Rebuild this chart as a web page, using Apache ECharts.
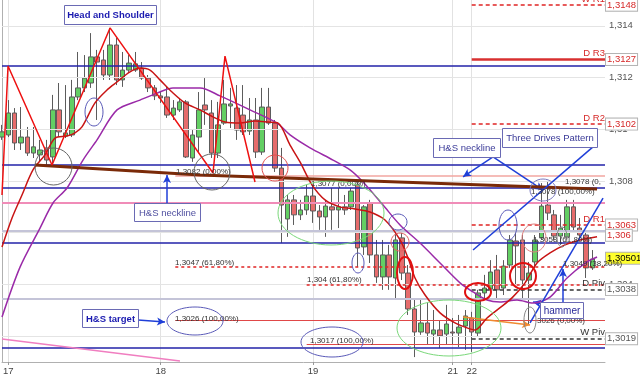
<!DOCTYPE html>
<html>
<head>
<meta charset="utf-8">
<script src="https://cdn.jsdelivr.net/npm/echarts/dist/echarts.min.js"></script>
<style>
html,body{margin:0;padding:0;background:#fff;}
#chart{width:640px;height:378px;}
</style>
</head>
<body>
<div id="chart"></div>
<script>
// ---------------- data ----------------
const dayLabels = {1:'17', 25:'18', 49:'19', 71:'21', 74:'22'};
const slotCount = 96;
// [open, close, low, high]
const candles = [
[1.30970,1.30990,1.30959,1.31017],[1.30978,1.31063,1.30970,1.31113],[1.31063,1.30947,1.30920,1.31082],
[1.30947,1.30970,1.30920,1.31086],[1.30970,1.30908,1.30897,1.31009],[1.30908,1.30932,1.30889,1.31009],
[1.30901,1.30920,1.30874,1.30959],[1.30928,1.30881,1.30862,1.30959],[1.30893,1.31075,1.30862,1.31133],
[1.31075,1.30990,1.30970,1.31179],[1.30974,1.30986,1.30966,1.31171],[1.30978,1.31125,1.30970,1.31191],
[1.31125,1.31160,1.31113,1.31299],[1.31160,1.31198,1.31144,1.31287],[1.31179,1.31280,1.31160,1.31372],
[1.31280,1.31260,1.31036,1.31307],[1.31268,1.31210,1.31191,1.31307],[1.31210,1.31326,1.31191,1.31392],
[1.31326,1.31191,1.31171,1.31353],[1.31191,1.31229,1.31164,1.31299],[1.31229,1.31256,1.31222,1.31287],
[1.31229,1.31253,1.31222,1.31299],[1.31237,1.31198,1.31191,1.31260],[1.31198,1.31160,1.31144,1.31210],
[1.31160,1.31129,1.31113,1.31171],[1.31129,1.31121,1.31102,1.31144],[1.31125,1.31055,1.31044,1.31164],
[1.31055,1.31082,1.31036,1.31113],[1.31075,1.31106,1.31067,1.31121],[1.31106,1.30893,1.30889,1.31113],
[1.30889,1.30978,1.30874,1.30997],[1.30970,1.31075,1.30908,1.31144],[1.31094,1.31075,1.31017,1.31198],
[1.31063,1.30908,1.30889,1.31113],[1.30908,1.31017,1.30889,1.31106],[1.31024,1.31098,1.31017,1.31191],
[1.31090,1.31098,1.31005,1.31160],[1.31082,1.30997,1.30959,1.31171],[1.31055,1.30990,1.30978,1.31171],
[1.30993,1.31036,1.30978,1.31121],[1.31036,1.30912,1.30889,1.31121],[1.30912,1.31086,1.30901,1.31160],
[1.31086,1.31024,1.31017,1.31160],[1.31024,1.30850,1.30835,1.31036],[1.30850,1.30707,1.30560,1.30928],
[1.30653,1.30727,1.30584,1.30746],[1.30727,1.30669,1.30630,1.30746],[1.30669,1.30688,1.30649,1.30727],
[1.30688,1.30742,1.30669,1.30785],[1.30742,1.30684,1.30638,1.30785],[1.30684,1.30661,1.30611,1.30707],
[1.30661,1.30703,1.30584,1.30727],[1.30700,1.30688,1.30611,1.30773],[1.30688,1.30700,1.30618,1.30773],
[1.30700,1.30688,1.30669,1.30746],[1.30700,1.30761,1.30688,1.30773],[1.30785,1.30541,1.30467,1.30796],
[1.30545,1.30700,1.30514,1.30707],[1.30715,1.30514,1.30483,1.30727],[1.30514,1.30429,1.30406,1.30572],
[1.30429,1.30514,1.30379,1.30572],[1.30514,1.30429,1.30379,1.30553],[1.30425,1.30572,1.30340,1.30603],
[1.30580,1.30444,1.30417,1.30599],[1.30444,1.30305,1.30282,1.30475],[1.30305,1.30216,1.30119,1.30340],
[1.30216,1.30251,1.30205,1.30340],[1.30251,1.30212,1.30166,1.30328],[1.30208,1.30224,1.30166,1.30301],
[1.30224,1.30201,1.30154,1.30262],[1.30208,1.30247,1.30166,1.30321],[1.30216,1.30212,1.30166,1.30270],
[1.30212,1.30235,1.30158,1.30282],[1.30239,1.30278,1.30147,1.30301],[1.30270,1.30216,1.30139,1.30294],
[1.30212,1.30367,1.30197,1.30379],[1.30367,1.30386,1.30340,1.30437],[1.30382,1.30448,1.30359,1.30494],
[1.30456,1.30379,1.30340,1.30514],[1.30386,1.30471,1.30359,1.30494],[1.30475,1.30572,1.30464,1.30591],
[1.30568,1.30549,1.30398,1.30611],[1.30572,1.30417,1.30340,1.30591],[1.30417,1.30444,1.30243,1.30487],
[1.30487,1.30572,1.30464,1.30591],[1.30580,1.30703,1.30572,1.30792],[1.30707,1.30676,1.30649,1.30796],
[1.30669,1.30587,1.30572,1.30688],[1.30587,1.30618,1.30553,1.30669],[1.30584,1.30700,1.30572,1.30727],
[1.30700,1.30622,1.30603,1.30727],[1.30618,1.30591,1.30572,1.30657],[1.30591,1.30464,1.30425,1.30603],
[1.30464,1.30498,1.30456,1.30533]
];
// moving averages traced as [slot, price]
const fastMA = [
[0,1.30545],[1.58,1.30657],[3.15,1.30746],[4.88,1.30843],[6.77,1.30901],[8.35,1.30966],[10.24,1.30974],
[11.5,1.30986],[12.6,1.31009],[14.65,1.31102],[16.54,1.31152],[18.12,1.31183],[20.17,1.31222],[21.74,1.31237],
[23.32,1.31229],[24.89,1.31191],[26.78,1.31144],[28.83,1.31102],[31.2,1.31075],[33.24,1.31048],[35.13,1.31028],
[37.5,1.31024],[39.86,1.31032],[41.91,1.31028],[43.49,1.31024],[45.38,1.30939],[46.95,1.30874],[48.84,1.30785],
[50.89,1.30727],[53.25,1.30700],[55.62,1.30692],[57.98,1.30680],[60.34,1.30649],[62.71,1.30572],[63.97,1.30502],
[65.07,1.30425],[66.65,1.30359],[69.01,1.30290],[71.37,1.30251],[73.26,1.30232],[74.52,1.30224],[76.41,1.30270],
[78.42,1.30309],[80.35,1.30348],[82.4,1.30406],[84.29,1.30483],[86.34,1.30522],[88.7,1.30553],[91.07,1.30572],
[93.75,1.30584]
];
const slowMA = [
[0,1.30274],[2.84,1.30467],[5.99,1.30618],[8.04,1.30715],[10.24,1.30773],[12.76,1.30881],[14.97,1.30959],
[18.12,1.31075],[21.74,1.31113],[24.42,1.31140],[26.94,1.31160],[31.2,1.31160],[34.35,1.31129],[39.07,1.31075],
[43.33,1.31024],[45.38,1.30978],[48.53,1.30928],[52.15,1.30881],[54.83,1.30843],[56.88,1.30796],[60.03,1.30707],
[62.71,1.30630],[65.86,1.30560],[69.01,1.30483],[72.16,1.30406],[74.21,1.30371],[76.41,1.30340],[78.46,1.30332],
[81.14,1.30340],[83.66,1.30328],[86.34,1.30351],[89.02,1.30425],[92.17,1.30487],[93.75,1.30506]
];
const hsZigzag = [[0,1.30746],[0.95,1.31245],[7.88,1.30862],[17.02,1.31392],[33.24,1.30831],[35.13,1.31283],[39.86,1.30796]];
const hsNeckline = [[5.2,1.30862],[31.2,1.30823],[93.75,1.30769]];
const channelLine = [[74.21,1.30533],[93.11,1.30932]];
const supportLine = [[83.19,1.30251],[94.69,1.30734]];
const yTicks = [1.302,1.304,1.306,1.308,1.310,1.312,1.314];
const blueLevels = [1.31245,1.30862,1.30773,1.30560,1.30154];
const pinkLevels = [1.30715];
const greyLevels = [1.30607,1.30344];
const pivotNames = ['W R1','D R3','D R2','D R1','D Piv','W Piv'];
const pivotValues = [1.3148,1.3127,1.3102,1.3063,1.3038,1.3019];
const fiboA = [1.3082,1.3047,1.3026];
const fiboB = [1.3040,1.3017];
const priceBoxValues = [1.3148,1.3127,1.3102,1.3063,1.3059,1.30501,1.3038,1.3019];
const priceBoxTexts = ['1,3148','1,3127','1,3102','1,3063','1,306','1,30501','1,3038','1,3019'];

// ---------------- chart ----------------
const FONT = 'Liberation Sans, Arial, sans-serif';
const categories = Array.from({length: slotCount}, (_, i) => dayLabels[i] || '');
const isDay = (i) => !!dayLabels[i];
const chart = echarts.init(document.getElementById('chart'));

const RED = '#e02424', BLUE = '#2222a8', TBLUE = '#1f3fd8';
function seg(x1, x2, v, ls, label) {
  return [{coord:[x1, v], lineStyle: ls, label: label || {show:false}}, {coord:[x2, v]}];
}
function arrow(a, b, color) {
  return [{coord:a, lineStyle:{color:color, width:1.5, type:'solid'}, label:{show:false}}, {coord:b}];
}
const pivotStyle = {
  'W R1': {color: RED, type:[4,3], width:1.5},
  'D R3': {color: '#d83030', type:'solid', width:2.5},
  'D R2': {color: RED, type:[4,3], width:1.5},
  'D R1': {color: RED, type:[4,3], width:1.5},
  'D Piv': {color: '#333', type:[4,3], width:1.5},
  'W Piv': {color: '#333', type:[4,3], width:1.5}
};
const boxColor = ['#d62828','#d62828','#d62828','#d62828','#d62828','#000','#555','#555'];

const mlBase = {symbol:'none', silent:true, animation:false, precision:5};

const option = {
  animation: false,
  backgroundColor: '#fff',
  grid: {left: 2, top: 0, width: 603, height: 362, containLabel: false, outerBoundsMode: 'none'},
  xAxis: [
    {type:'category', data: categories, boundaryGap:false,
     axisLine:{lineStyle:{color:'#b0b0b0'}},
     axisTick:{show:true, interval:(i)=>isDay(i), length:3, lineStyle:{color:'#999'}},
     axisLabel:{interval:0, color:'#444', fontSize:9.5, fontFamily:FONT, margin:4},
     splitLine:{show:true, interval:(i)=>isDay(i), lineStyle:{color:'#e2e2e2'}}},
    {type:'value', min:0, max:slotCount-1, show:false}
  ],
  yAxis: [
    {type:'value', min:1.301, max:1.315, position:'right', scale:true,
     axisLine:{show:true, lineStyle:{color:'#b0b0b0'}}, axisTick:{show:false},
     axisLabel:{show:false}, splitLine:{show:false}}
  ],
  series: [
    // grid lines + axis labels
    {type:'line', xAxisIndex:1, data:[], z:1, markLine: Object.assign({}, mlBase, {
      data: yTicks.map(v => ({yAxis:v, name:String(v).replace('.', ','),
        lineStyle:{color:'#e4e4e4', width:1, type:'solid'},
        label:{show:true, position:'end', distance:4, formatter:'{b}', color:'#555', fontSize:9.5, fontFamily:FONT}}))
    })},
    {type:'candlestick', data:candles, xAxisIndex:0, yAxisIndex:0, barWidth:5, z:3,
     itemStyle:{color:'#63cf63', color0:'#e66c6c', borderColor:'#5c5c5c', borderColor0:'#5c5c5c', borderWidth:1}},
    // horizontal levels
    {type:'line', xAxisIndex:1, data:[], z:4, markLine: Object.assign({}, mlBase, {
      data: [].concat(
        greyLevels.map(v => ({yAxis:v, lineStyle:{color:'#c4c4d8', width:2, type:'solid'}, label:{show:false}})),
        pinkLevels.map(v => ({yAxis:v, lineStyle:{color:'#f08cb8', width:2, type:'solid'}, label:{show:false}})),
        blueLevels.map(v => ({yAxis:v, lineStyle:{color:BLUE, width:1.5, type:'solid'}, label:{show:false}})),
        [seg(27.3, 95, fiboA[0], {color:'#f2a6a0', width:1.5, type:'solid'}),
         seg(27.3, 95, fiboA[1], {color:RED, width:1.5, type:[3,3]}),
         seg(27.3, 95, fiboA[2], {color:'#e04848', width:1, type:'solid'}),
         seg(48, 95, fiboB[0], {color:RED, width:1.5, type:[3,3]}),
         seg(48, 95, fiboB[1], {color:'#e04848', width:1, type:'solid'})],
        pivotNames.map((n, k) => seg(74, 95, pivotValues[k], pivotStyle[n],
          {show:true, position:'insideEndTop', distance:[0,1], formatter:n, color:pivotStyle[n].color === '#333' ? '#333' : '#d62828',
           fontSize:9.5, fontFamily:FONT}))
      )
    })},
    // annotation arrows / pointers
    {type:'line', xAxisIndex:1, data:[], z:6, markLine: Object.assign({}, mlBase, {
      symbol:['none','arrow'], symbolSize:[6,8],
      data: [
        arrow([77.36,1.30893],[72.64,1.30816], TBLUE),
        arrow([77.36,1.30893],[85.24,1.30765], TBLUE),
        arrow([26.0,1.30715],[26.0,1.30823], TBLUE),
        arrow([21.43,1.30262],[25.68,1.30255], TBLUE),
        arrow([85.87,1.30321],[83.66,1.30332], TBLUE),
        arrow([88.38,1.30332],[88.38,1.30460], TBLUE),
        arrow([72.63,1.30274],[83.19,1.30243], '#f08a30')
      ]
    })},
    {type:'line', xAxisIndex:1, data:[], z:4, markLine: Object.assign({}, mlBase, {
      data: [[{coord:[0,1.30189], lineStyle:{color:'#f07ec0', width:1.5, type:'solid'}, label:{show:false}}, {coord:[28.04,1.30104]}]]
    })},
    // moving averages
    {type:'line', xAxisIndex:1, data:slowMA, symbol:'none', smooth:0.3, z:5,
     lineStyle:{color:'#9a2aa8', width:1.5}},
    {type:'line', xAxisIndex:1, data:fastMA, symbol:'none', smooth:0.3, z:5,
     lineStyle:{color:'#c81414', width:1.5}},
    // pattern drawings
    {type:'line', xAxisIndex:1, data:hsNeckline, symbol:'none', z:5, lineStyle:{color:'#7a2a08', width:3}},
    {type:'line', xAxisIndex:1, data:hsZigzag, symbol:'none', z:6, lineStyle:{color:'#ee1111', width:1.5}},
    {type:'line', xAxisIndex:1, data:channelLine, symbol:'none', z:6, lineStyle:{color:TBLUE, width:1.5}},
    {type:'line', xAxisIndex:1, data:supportLine, symbol:'none', z:6, lineStyle:{color:TBLUE, width:1.5}},
    // right-hand price boxes
    {type:'line', xAxisIndex:1, data:[], z:20, markLine: Object.assign({}, mlBase, {
      data: priceBoxValues.map((v, k) => [
        {coord:[94.9, v], name:priceBoxTexts[k],
         lineStyle:{color:'rgba(255,255,255,0)', width:1, type:'solid'},
         label:{show:true, position:'end', distance:1, formatter:'{b}', color:boxColor[k],
          fontSize:9.5, fontFamily:FONT, backgroundColor: k === 5 ? '#ffff2e' : '#fff',
          borderColor:'#b4b4b4', borderWidth:1, padding:[1,1,0,1]}},
        {coord:[95, v]}])
    })}
  ]
};

// ---- annotation overlay: boxes, circles, fibo texts ----
const ellipses = [
  [53.5,166.5,18.5,18.5,'#666',1],[94,112,9,14,'#5a5ab8',1],[212,172,18,18,'#666',1],
  [275,168,13,13,'#e05050',1],[331,213,53,32,'#7ad87a',1],[358,263,6,10,'#5a5ab8',1],
  [398,222,9,8,'#5a5ab8',1],[400,242,9,9,'#e06060',1],[405,273,8,16,'#e01010',2],
  [449,328,52,28,'#7ad87a',1],[478,292,13,9,'#e01010',2],[523,276,13,13,'#e01010',2],
  [508,225,9,15,'#5a5ab8',1],[534,238,12,14,'#e08080',1],[543,190,13,11,'#7a7ac0',1],
  [530,320,6,13,'#888',1],[562,237,5,10,'#888',1],[195,321,28,14,'#5a5ab8',1],[332,342,31,15,'#5a5ab8',1]
];
const boxes = [
  [64,5,92,19,'Head and Shoulder','bold',9.5,'#1a1ab0'],
  [134,203,66,18,'H&S neckline','normal',9.5,'#5050a0'],
  [82,309,56,18,'H&S target','bold',9.5,'#1a1ab0'],
  [433,138,67,19,'H&S neckline','normal',9.5,'#3a3a98'],
  [502,128,95,19,'Three Drives Pattern','normal',9.5,'#3a3a98'],
  [540,302,43,16,'hammer','normal',10,'#2a2a9a']
];
const fiboTexts = [
  ['1,3082 (0,00%)',176,172],['1,3077 (0,00%)',311,184],['1,3047 (61,80%)',175,263],
  ['1,304 (61,80%)',307,280],['1,3026 (100,00%)',175,319],['1,3017 (100,00%)',310,341],
  ['1,3078 (0,',565,182],['1,3078 (100,00%)',531,192],['1,3058 (61,80%)',533,240],
  ['1,3049 (38,20%)',563,264],['3026 (0,00%)',537,321]
];
const graphics = [];
fiboTexts.forEach(t => graphics.push({type:'text', z:50, style:{text:t[0], x:t[1], y:t[2],
  font:'8px ' + FONT, fill:'#333', verticalAlign:'middle', textVerticalAlign:'middle'}}));
ellipses.forEach(e => graphics.push({type:'ellipse', z:60, shape:{cx:e[0], cy:e[1], rx:e[2], ry:e[3]},
  style:{fill:'none', stroke:e[4], lineWidth:e[5]}}));
boxes.forEach(b => {
  graphics.push({type:'rect', z:70, shape:{x:b[0]+0.5, y:b[1]+0.5, width:b[2], height:b[3]},
    style:{fill:'#fff', stroke:'#6a6ab4', lineWidth:1}});
  graphics.push({type:'text', z:71, style:{text:b[4], x:b[0]+b[2]/2+0.5, y:b[1]+b[3]/2+1,
    font: b[5] + ' ' + b[6] + 'px ' + FONT, fill:b[7], align:'center', verticalAlign:'middle',
    textAlign:'center', textVerticalAlign:'middle'}});
});
option.graphic = {elements: graphics};
chart.setOption(option);
</script>
</body>
</html>
